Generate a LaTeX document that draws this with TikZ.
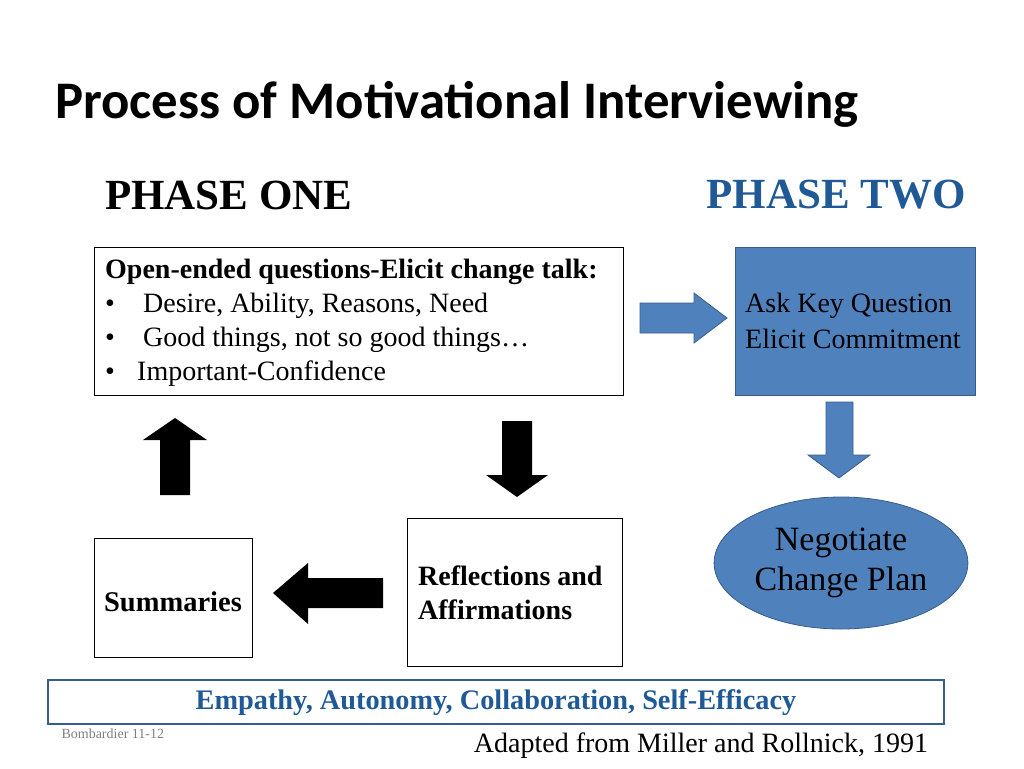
\documentclass[tikz,border=0pt]{standalone}
\usepackage{fontspec}
\setmainfont{Liberation Serif}
\newfontfamily\titlefont{Carlito}
\usetikzlibrary{positioning,shapes.geometric}
\definecolor{boxblue}{HTML}{4F81BD}
\definecolor{edgeblue}{HTML}{385D8A}
\definecolor{phaseblue}{HTML}{1F5A96}
\tikzstyle{plainbox} = [draw, thick, inner sep=0pt]
\tikzstyle{blockarrow} = [fill=black]
\tikzstyle{bluearrow} = [fill=boxblue, draw=edgeblue, thick]
\begin{document}
\begin{tikzpicture}[x=1pt,y=-1pt,
        txt/.style={font=\fontsize{28}{34}\selectfont, anchor=west, inner sep=0pt}]
    \useasboundingbox (0,0) rectangle (1024,768);
    %% Titles
    \node [anchor=base west, inner sep=0pt, font=\titlefont\bfseries\fontsize{52.8}{60}\selectfont] (title) at (55,118) {Process of Motivational Interviewing};
    \node [anchor=west, inner sep=0pt, font=\bfseries\fontsize{43}{48}\selectfont] (one) at (105,195) {PHASE ONE};
    \node [anchor=east, inner sep=0pt, text=phaseblue, font=\bfseries\fontsize{43}{48}\selectfont] (two) at (966,195) {PHASE TWO};
    %% Boxes
    \draw [plainbox] (94,247) rectangle (623,395);
    \node [txt, font=\bfseries\fontsize{28}{34}\selectfont] (q) at (105,272) {Open-ended questions-Elicit change talk:};
    \node [txt] (q1) at (105,306) {\hbox to 38pt{•\hfil}Desire, Ability, Reasons, Need};
    \node [txt] (q2) at (105,340) {\hbox to 38pt{•\hfil}Good things, not so good things…};
    \node [txt] (q3) at (105,374) {\hbox to 32pt{•\hfil}Important-Confidence};
    \draw [fill=boxblue, draw=edgeblue, thick] (735,247) rectangle (975,395);
    \node [txt] (ask) at (745,306) {Ask Key Question};
    \node [txt] (elicit) at (745,339) {Elicit Commitment};
    \node [ellipse, draw=edgeblue, thick, fill=boxblue, minimum width=240pt, minimum height=132pt,
        align=center, font=\fontsize{34}{40}\selectfont] (plan) at (841,563) {Negotiate\\Change Plan};
    \draw [plainbox] (94,538) rectangle (252,657);
    \node [anchor=center, font=\bfseries\fontsize{28.5}{30}\selectfont] (sum) at (173,602) {Summaries};
    \draw [plainbox] (407,518) rectangle (622,666);
    \node [txt, align=left, font=\bfseries\fontsize{28}{34}\selectfont] (refl) at (418,593) {Reflections and\\Affirmations};
    %% Arrows
    \fill [bluearrow] (640,303) -- (694,303) -- (694,293) -- (727,318) -- (694,343) -- (694,333) -- (640,333) -- cycle;
    \fill [bluearrow] (826,402) -- (853,402) -- (853,455) -- (870,455) -- (839,478) -- (808,455) -- (826,455) -- cycle;
    \fill [blockarrow] (160,495) -- (190,495) -- (190,440) -- (207,440) -- (175,418) -- (143,440) -- (160,440) -- cycle;
    \fill [blockarrow] (502,421) -- (532,421) -- (532,475) -- (548,475) -- (517,497) -- (486,475) -- (502,475) -- cycle;
    \fill [blockarrow] (383,578) -- (308,578) -- (308,563) -- (273,593) -- (308,624) -- (308,608) -- (383,608) -- cycle;
    %% Footer
    \draw [draw=edgeblue, line width=2pt] (48,680) rectangle (944,724);
    \node [text=phaseblue, font=\bfseries\fontsize{28.3}{32}\selectfont] (values) at (496,703) {Empathy, Autonomy, Collaboration, Self-Efficacy};
    \node [anchor=west, text=gray, font=\fontsize{14}{16}\selectfont] (credit) at (58,734) {Bombardier 11-12};
    \node [font=\fontsize{28}{32}\selectfont] (source) at (701,746) {Adapted from Miller and Rollnick, 1991};
\end{tikzpicture}
\end{document}
